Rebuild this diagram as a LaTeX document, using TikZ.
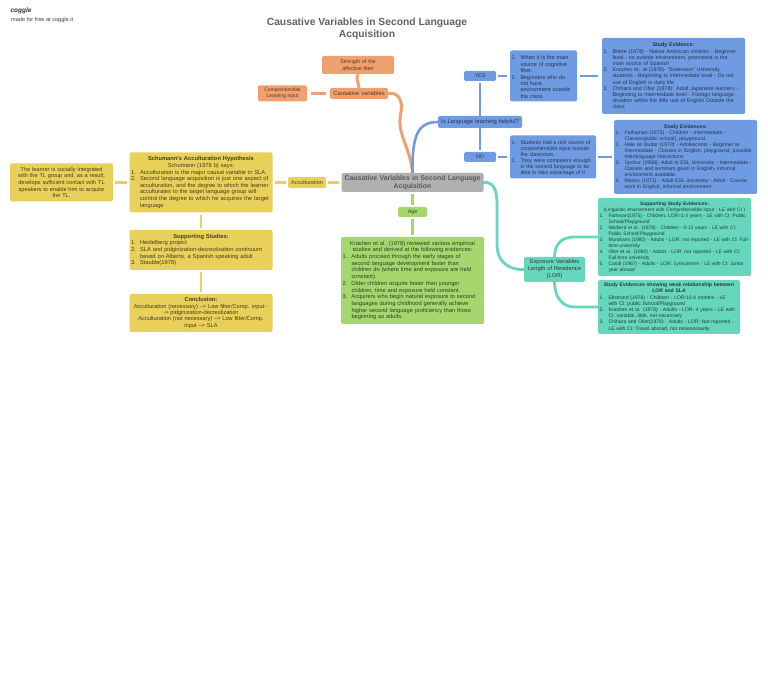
\documentclass[tikz,border=0pt]{standalone}
\usepackage{fontspec}
\setmainfont{Liberation Sans}
\definecolor{orangefill}{RGB}{240,160,110}
\definecolor{bluefill}{RGB}{110,155,225}
\definecolor{yellowfill}{RGB}{232,208,90}
\definecolor{greenfill}{RGB}{165,215,110}
\definecolor{tealfill}{RGB}{102,214,188}
\definecolor{greyfill}{RGB}{176,176,176}
\newcommand{\numline}[2]{\par{\let\\\newline\hangindent=9pt\hangafter=1\noindent\hbox to 9pt{#1\hfil}#2\par}}
\newcommand{\boxhead}[1]{{\centering #1\par}}
\tikzset{
    topic/.style={rounded corners=1.5pt,inner sep=1.5pt,align=center,font=\fontsize{5.3}{6.5}\selectfont},
    otopic/.style={topic,fill=orangefill,text=orangefill!35!black},
    btopic/.style={topic,fill=bluefill,text=bluefill!35!black},
    ytopic/.style={topic,fill=yellowfill,text=yellowfill!30!black},
    gtopic/.style={topic,fill=greenfill,text=greenfill!30!black},
    ttopic/.style={topic,fill=tealfill,text=tealfill!30!black},
    oline/.style={draw=orangefill,line width=3pt,line cap=round},
    bline/.style={draw=bluefill,line width=2.6pt},
    yline/.style={draw=yellowfill,line width=2.6pt,shorten >=2pt,shorten <=2pt},
    gline/.style={draw=greenfill,line width=2.6pt,shorten >=2pt,shorten <=2pt},
    tline/.style={draw=tealfill,line width=2.8pt,line cap=round}
}
\begin{document}
\begin{tikzpicture}[x=1pt,y=-1pt]
\useasboundingbox (0,0) rectangle (768,684);

\node (logo) [font=\fontsize{6.5}{8}\itshape\bfseries\selectfont,text=black!80] at (21,10.5) {coggle};
\node (made) [anchor=west,inner sep=0pt,font=\fontsize{5.6}{6}\selectfont,text=black!75] at (11,20.5) {made for free at coggle.it};
\node (title) [align=center,font=\fontsize{10.3}{12.2}\bfseries\selectfont,text=black!62] at (367,28.5) {Causative Variables in Second Language\\Acquisition};

\node (central) [topic,fill=greyfill,text=black!65,text width=139pt,minimum height=19pt,font=\fontsize{6.9}{8.3}\bfseries\selectfont] at (412.5,182.5) {Causative Variables in Second Language\\Acquisition};

\node (strength) [otopic,text width=69pt,minimum height=18pt] at (358,65) {Strength of the\\affective filter};
\node (causative) [otopic,text width=55pt,minimum height=11pt,font=\fontsize{5.85}{7}\selectfont] at (359,93.5) {Causative variables};
\node (comprehensible) [otopic,text width=46pt,minimum height=16pt,font=\fontsize{5}{6}\selectfont] at (282.5,93.5) {Comprehensible\\Learning input};

\node (helpful) [btopic,text width=81pt,minimum height=12pt,font=\fontsize{5.75}{7}\selectfont] at (480,122) {Is Language teaching helpful?};
\node (yes) [btopic,text width=29pt,minimum height=10pt] at (480,76) {YES};
\node (no) [btopic,text width=29pt,minimum height=10pt] at (480,157) {NO};
\node (yesbox) [btopic,align=left,text width=64pt,minimum height=51pt,font=\fontsize{5.5}{6.4}\selectfont] at (543.5,76) {%
\numline{1.}{When it is the main\\source of cognitive\\filter.}
\numline{2.}{Beginners who do\\not have\\environment outside\\the class.}};
\node (nobox) [btopic,align=left,text width=83pt,minimum height=43pt,font=\fontsize{5.25}{6.1}\selectfont] at (553,157) {%
\numline{1.}{Students had a rich source of\\comprehensible input outside\\the classroom.}
\numline{2.}{They were competent enough\\in the second language to be\\able to take advantage of it}};
\node (yesstudy) [btopic,align=left,text width=140pt,minimum height=76pt,font=\fontsize{5.35}{6.2}\selectfont] at (673.5,76) {%
\boxhead{\textbf{Study Evidence:}}
\numline{1.}{Briere (1978) - Native American children - Beginner\\level - no outside environment, promotora is the\\main source of Spanish}
\numline{2.}{Krashen et. al (1978)- "Extension" University\\students - Beginning to Intermediate level - Do not\\use of English in daily life}
\numline{3.}{Chihara and Oller (1978): Adult Japanese learners -\\Beginning to Intermediate level - Foreign language\\situation within the little use of English Outside the\\class}};
\node (nostudy) [btopic,align=left,text width=140pt,minimum height=74pt,font=\fontsize{5.15}{6}\selectfont] at (685.5,157) {%
\boxhead{\textbf{Study Evidences:}}
\numline{1.}{Fathaman (1975) - Children - Intermediate -\\Classes(public school), playground.}
\numline{2.}{Hale an Budar (1970) - Adolescents - Beginner to\\Intermediate - Classes in English, playground, possible\\interlanguage interactions}
\numline{3.}{Upshur (1968)- Adult in ESL University - Intermediate -\\Classes and seminars given in English, informal\\environment available.}
\numline{4.}{Mason (1971) - Adult ESL university - Adult - Course\\work in English, informal environment}};

\node (exposure) [ttopic,text width=58pt,minimum height=25pt,font=\fontsize{5.7}{7}\selectfont] at (554.5,269.5) {Exposure Variables\\Length of Residence\\(LOR)};
\node (supporting) [ttopic,align=left,text width=150pt,minimum height=78pt,font=\fontsize{4.9}{6}\selectfont] at (674.5,237) {%
\boxhead{\textbf{Supporting Study Evidences:}}
\boxhead{(Linguistic environment with Comprehensible input - LE with CI )}
\numline{1.}{Fathman(1975) - Children, LOR=1-3 years - LE with CI: Public\\School/Playground}
\numline{2.}{Walberd et al. (1978) - Children - 0-12 years - LE with CI:\\Public School/Playground}
\numline{3.}{Murakami (1980) - Adults - LOR: not reported - LE with CI: Full-\\time university}
\numline{4.}{Oller et al. (1980) - Adults - LOR: not reported - LE with CI:\\Full-time university}
\numline{5.}{Caroll (1967) - Adults - LOR: 1yr/summer - LE with CI: Junior\\year abroad}};
\node (weak) [ttopic,align=left,text width=139pt,minimum height=54pt,font=\fontsize{5.1}{6.2}\selectfont] at (669,307) {%
\boxhead{\textbf{Study Evidences showing weak relationship between\\LOR and SLA}}
\numline{1.}{Ekstrand (1976) - Children - LOR:10.4 months - LE\\with CI: public School/Playground}
\numline{2.}{Krashen et al. (1978) - Adults - LOR: 4 years - LE with\\CI: variable, little, not necessary}
\numline{3.}{Chihara and Oller(1978) - Adults - LOR: Not reported -\\LE with CI: Travel abroad, not nesecessarily}};

\node (age) [gtopic,text width=26pt,minimum height=10pt] at (412.5,212) {Age};
\node (krashen) [gtopic,align=left,text width=140pt,minimum height=87pt,font=\fontsize{5.7}{6.7}\selectfont] at (412.5,280.5) {%
\boxhead{Krashen et al. (1978) reviewed various empirical\\studies and derived at the following evidences:}
\numline{1.}{Adults proceed through the early stages of\\second language development faster than\\children do (where time and exposure are held\\constant).}
\numline{2.}{Older children acquire faster than younger\\children, time and exposure held constant.}
\numline{3.}{Acquirers who begin natural exposure to second\\languages during childhood generally achieve\\higher second language proficiency than those\\beginning as adults.}};

\node (acculturation) [ytopic,text width=35pt,minimum height=11pt,font=\fontsize{5.5}{6.5}\selectfont] at (307,182.5) {Acculturation};
\node (schumann) [ytopic,align=left,text width=140pt,minimum height=60pt,font=\fontsize{5.75}{6.6}\selectfont] at (201,182.5) {%
\boxhead{\textbf{Schumann's Acculturation Hypothesis}\\Schumann (1978 b) says:}
\numline{1.}{Acculturation is the major causal variable in SLA.}
\numline{2.}{Second language acquisition is just one aspect of\\acculturation, and the degree to which the learner\\acculturates to the target language group will\\control the degree to which he acquires the target\\language}};
\node (learner) [ytopic,text width=100pt,minimum height=38pt,font=\fontsize{5.6}{6.6}\selectfont] at (61.5,182.5) {The learner is socially integrated\\with the TL group and, as a result,\\develops sufficient contact with TL\\speakers to enable him to acquire\\the TL.};
\node (studies) [ytopic,align=left,text width=140pt,minimum height=40pt,font=\fontsize{5.75}{6.6}\selectfont] at (201,250) {%
\boxhead{\textbf{Supporting Studies:}}
\numline{1.}{Heidelberg project}
\numline{2.}{SLA and pidginization-decreolization continuum\\based on Alberto, a Spanish speaking adult}
\numline{3.}{Stauble(1978)}};
\node (conclusion) [ytopic,text width=140pt,minimum height=38pt,font=\fontsize{5.65}{6.4}\selectfont] at (201,313) {\textbf{Conclusion:}\\Acculturation (necessary) --> Low filter/Comp. input -\\-> pidginization-decreolization\\Acculturation (not necessary) --> Low filter/Comp.\\input --> SLA};

\draw [oline] (causative.east) .. controls (398,92) and (403,100) .. (401,112) .. controls (396,135) and (410,145) .. (central.north);
\draw [oline] (causative.north) .. controls (359,82) and (355,80) .. (strength.south);
\draw [oline,shorten >=4pt,shorten <=4pt,line cap=butt] (causative.west) -- (comprehensible.east);

\draw [bline] (central.north) .. controls (412,135) and (418,122) .. (helpful.west);
\draw [bline,shorten >=2pt] (helpful.north) -- (yes.south);
\draw [bline,shorten >=2pt] (helpful.south) -- (no.north);
\draw [bline,line width=1.8pt,shorten >=3pt,shorten <=2pt] (yes.east) -- (yesbox.west);
\draw [bline,line width=1.8pt,shorten >=3pt,shorten <=2pt] (no.east) -- (nobox.west);
\draw [bline,line width=1.2pt,shorten >=4pt,shorten <=3pt] (yesbox.east) -- (yesstudy.west);
\draw [bline,line width=1.2pt,shorten >=2pt,shorten <=2pt] (nobox.east) -- (nostudy.west);

\draw [tline] (central.east) .. controls (493,182) and (497,188) .. (497,205) -- (497,245) .. controls (497,260) and (507,270) .. (exposure.west);
\draw [tline] (exposure.north) .. controls (555,245) and (560,237) .. (575,237) -- (supporting.west);
\draw [tline] (exposure.south) .. controls (555,298) and (562,307) .. (575,307) -- (weak.west);

\draw [gline] (central.south) -- (age.north);
\draw [gline] (age.south) -- (krashen.north);

\draw [yline] (learner.east) -- (schumann.west);
\draw [yline] (schumann.east) -- (acculturation.west);
\draw [yline] (acculturation.east) -- (central.west);
\draw [yline] (schumann.south) -- (studies.north);
\draw [yline] (studies.south) -- (conclusion.north);
\end{tikzpicture}
\end{document}
